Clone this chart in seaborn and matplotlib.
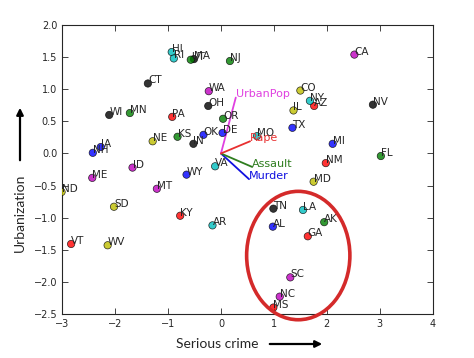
import numpy as np
import pandas as pd
import seaborn as sns
import matplotlib.pyplot as plt
from matplotlib.patches import Ellipse

# states in USArrests order (by full name)
states = ['AL', 'AK', 'AZ', 'AR', 'CA', 'CO', 'CT', 'DE', 'FL', 'GA',
          'HI', 'ID', 'IL', 'IN', 'IA', 'KS', 'KY', 'LA', 'ME', 'MD',
          'MA', 'MI', 'MN', 'MS', 'MO', 'MT', 'NE', 'NV', 'NH', 'NJ',
          'NM', 'NY', 'NC', 'ND', 'OH', 'OK', 'OR', 'PA', 'RI', 'SC',
          'SD', 'TN', 'TX', 'UT', 'VT', 'VA', 'WA', 'WV', 'WI', 'WY']
pc1 = [0.98, 1.95, 1.76, -0.16, 2.52, 1.50, -1.38, 0.03, 3.02, 1.64,
       -0.93, -1.67, 1.37, -0.52, -2.27, -0.82, -0.77, 1.55, -2.43, 1.75,
       -0.51, 2.11, -1.72, 0.99, 0.68, -1.21, -1.29, 2.87, -2.42, 0.17,
       1.98, 1.68, 1.11, -3.01, -0.24, -0.33, 0.04, -0.92, -0.89, 1.31,
       -2.02, 0.99, 1.35, -0.57, -2.83, -0.11, -0.23, -2.14, -2.11, -0.65]
pc2 = [-1.14, -1.07, 0.74, -1.12, 1.54, 0.98, 1.09, 0.32, -0.04, -1.29,
       1.58, -0.22, 0.67, 0.15, 0.10, 0.26, -0.97, -0.88, -0.38, -0.44,
       1.47, 0.15, 0.63, -2.40, 0.27, -0.55, 0.19, 0.76, 0.01, 1.44,
       -0.15, 0.82, -2.23, -0.60, 0.74, 0.29, 0.54, 0.57, 1.48, -1.93,
       -0.83, -0.86, 0.40, 1.46, -1.41, -0.20, 0.97, -1.43, 0.60, -0.33]

# loading vectors
variables = ['Murder', 'Assault', 'UrbanPop', 'Rape']
load_x = [0.53, 0.59, 0.28, 0.55]
load_y = [-0.40, -0.21, 0.87, 0.19]
var_colors = ['#1010e0', '#2e7d1e', '#e040e0', '#e83030']

classic = ['#0000ff', '#008000', '#ff0000', '#00bfbf', '#bf00bf', '#bfbf00', '#000000']

df = pd.DataFrame({'state': states, 'pc1': pc1, 'pc2': pc2})

sns.set_style('ticks')
plt.rcParams['font.family'] = ['DejaVu Sans']
plt.rcParams['xtick.direction'] = 'in'
plt.rcParams['ytick.direction'] = 'in'

fig = plt.figure(figsize=(4.74, 3.58), dpi=100)
ax = fig.add_axes([0.131, 0.123, 0.782, 0.807])

pal = {s: classic[i % 7] for i, s in enumerate(states)}
sns.scatterplot(data=df, x='pc1', y='pc2', hue='state', palette=pal,
                s=28, edgecolor='black', linewidth=0.5, alpha=0.8,
                legend=False, ax=ax, zorder=3)
for s, x, y in zip(states, pc1, pc2):
    ax.text(x, y, s, fontsize=7.5, zorder=4)

for v, lx, ly, c in zip(variables, load_x, load_y, var_colors):
    ax.plot([0, lx], [0, ly], color=c, lw=1.3, zorder=2)
    ax.text(lx, ly + 0.05, v, color=c, fontsize=8, va='center', ha='left')

ax.add_patch(Ellipse((1.46, -1.59), 1.95, 2.0, fill=False, edgecolor='#d42a2a',
                     lw=2.6, clip_on=False, zorder=5))

ax.set_xlim(-3, 4)
ax.set_ylim(-2.5, 2.0)
ax.set_xticks(np.arange(-3, 5, 1))
ax.set_yticks(np.arange(-2.5, 2.01, 0.5))
ax.tick_params(labelsize=7, top=True, right=True, length=4, width=0.6)
for sp in ax.spines.values():
    sp.set_linewidth(0.8)
ax.set_xlabel('')
ax.set_ylabel('')

# axis titles with arrows, in figure coordinates
fig.text(217 / 474, 1 - 344 / 358, 'Serious crime', family='Lato', fontsize=10,
         ha='center', va='center')
fig.text(20 / 474, 1 - 213 / 358, 'Urbanization', family='Lato', fontsize=10,
         ha='center', va='center', rotation=90)
ax.annotate('', xy=(325 / 474, 1 - 344 / 358), xytext=(267 / 474, 1 - 344 / 358),
            xycoords='figure fraction', textcoords='figure fraction',
            arrowprops=dict(arrowstyle='-|>', color='black', lw=1.6, mutation_scale=10))
ax.annotate('', xy=(20 / 474, 1 - 105 / 358), xytext=(20 / 474, 1 - 163 / 358),
            xycoords='figure fraction', textcoords='figure fraction',
            arrowprops=dict(arrowstyle='-|>', color='black', lw=1.6, mutation_scale=10))

fig.savefig('out.png', dpi=100)
